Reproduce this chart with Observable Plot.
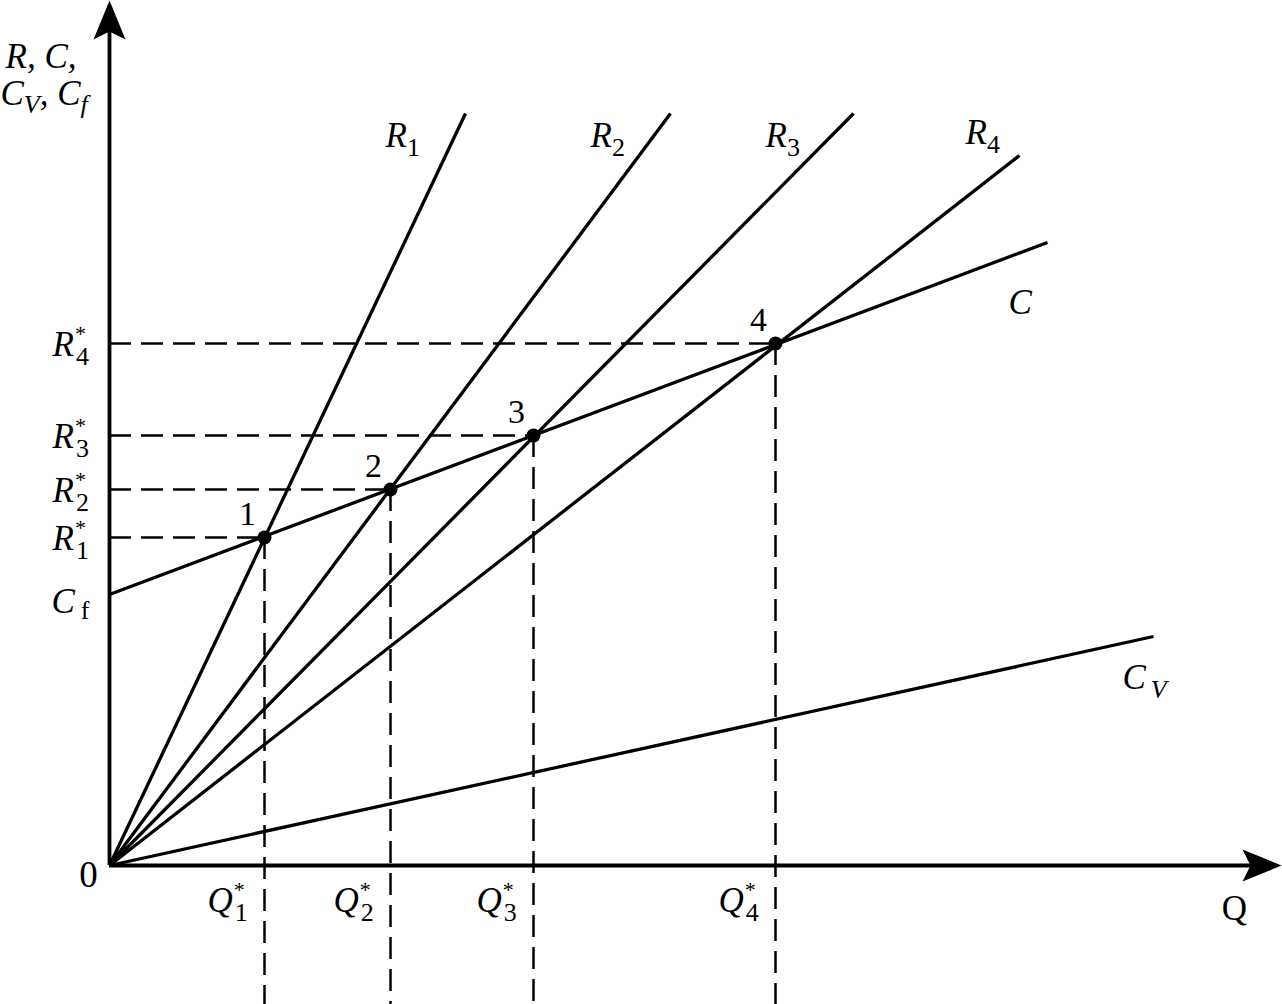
<!DOCTYPE html>
<html><head><meta charset="utf-8">
<script src="https://cdn.jsdelivr.net/npm/d3@7"></script>
<script src="https://cdn.jsdelivr.net/npm/@observablehq/plot@0.6"></script>
<style>body{margin:0;background:#fff}</style>
</head><body><div id="chart"></div>
<script>
// ---- data (units: Q on x, money on y) ----
const breakEven = [
  {id: 1, q: 15.5, v: 32.8},
  {id: 2, q: 28.1, v: 37.6},
  {id: 3, q: 42.4, v: 43.0},
  {id: 4, q: 66.6, v: 52.2}
];
const fixedCost = 27.1;
const costEnd = {q: 93.8, v: 62.3};
const varCostEnd = {q: 104.4, v: 22.9};
const revenueEnds = [
  {id: 1, q: 35.6, v: 75.2},
  {id: 2, q: 56.1, v: 75.2},
  {id: 3, q: 74.4, v: 75.2},
  {id: 4, q: 91.0, v: 71.0}
];
const revenueLabelAt = [
  {id: 1, q: 27.6, v: 71.9},
  {id: 2, q: 48.1, v: 71.9},
  {id: 3, q: 65.6, v: 71.9},
  {id: 4, q: 85.6, v: 72.2}
];
const costLabelAt = {q: 89.9, v: 55.2};
const varCostLabelAt = {q: 101.3, v: 17.7};
const axisEnd = {q: 117.2, v: 86.5};
const guideBottom = -14.5;
const yTitleLines = ["R, C,", "C_V, C_f"];
const xTitle = "Q";

// ---- rich-text specs (keyed by the plain string drawn by Plot) ----
const BASE = 35, SUB = 26, SUP = 22;
const rich = new Map();
for (const d of breakEven) {
  rich.set(`R*_${d.id}`, [
    {t: "R", italic: true},
    {t: "*", size: SUP, shift: -15, dx: 1},
    {t: String(d.id), size: SUB, shift: 9, stack: true, dx: 2}
  ]);
  rich.set(`Q*_${d.id}`, [
    {t: "Q", italic: true},
    {t: "*", size: SUP, shift: -15, dx: 1},
    {t: String(d.id), size: SUB, shift: 9, stack: true, dx: 2}
  ]);
  rich.set(`R_${d.id}`, [
    {t: "R", italic: true},
    {t: String(d.id), size: SUB, shift: 9}
  ]);
}
rich.set("C_f", [{t: "C", italic: true}, {t: "f", size: SUB, shift: 6, dx: 6}]);
rich.set("C_V", [{t: "C", italic: true}, {t: "V", size: SUB, shift: 9, italic: true, dx: 5}]);
rich.set("R, C,", [{t: "R, C,", italic: true}]);
rich.set("C_V, C_f", [
  {t: "C", italic: true},
  {t: "V", size: SUB, shift: 8, italic: true},
  {t: ", C", italic: true, shift: 0},
  {t: "f", size: SUB, shift: 8, italic: true}
]);
rich.set("C", [{t: "C", italic: true}]);

// custom arrowhead symbol (points up; tip at origin)
const arrowHead = {
  draw(ctx) {
    ctx.moveTo(0, 0);
    ctx.lineTo(16, 39);
    ctx.lineTo(0, 31);
    ctx.lineTo(-16, 39);
    ctx.closePath();
  }
};

const dash = {stroke: "#000", strokeWidth: 2.5, strokeDasharray: "22,10"};
const solid = {stroke: "#000", strokeWidth: 3.3};
const font = {fontFamily: "Liberation Serif", fontSize: BASE, fill: "#000", lineAnchor: "bottom"};

const chart = Plot.plot({
  width: 1282,
  height: 1004,
  marginLeft: 109,
  marginRight: 1,
  marginTop: 0,
  marginBottom: 139,
  x: {domain: [0, axisEnd.q], axis: null},
  y: {domain: [0, axisEnd.v], axis: null},
  style: {background: "#fff", color: "#000", overflow: "visible"},
  marks: [
    // dashed guides
    Plot.ruleY(breakEven, {y: "v", x1: 0, x2: "q", ...dash}),
    Plot.ruleX(breakEven, {x: "q", y1: "v", y2: guideBottom, ...dash}),
    // axes
    Plot.ruleX([0], {y1: 0, y2: axisEnd.v - 2, stroke: "#000", strokeWidth: 3.8}),
    Plot.ruleY([0], {x1: 0, x2: axisEnd.q - 2, stroke: "#000", strokeWidth: 3.8}),
    Plot.dot([{q: 0, v: axisEnd.v}], {x: "q", y: "v", symbol: arrowHead, fill: "#000", stroke: "none"}),
    Plot.dot([{q: axisEnd.q, v: 0}], {x: "q", y: "v", symbol: arrowHead, rotate: 90, fill: "#000", stroke: "none"}),
    // revenue lines
    Plot.link(revenueEnds, {x1: 0, y1: 0, x2: "q", y2: "v", ...solid}),
    // total cost, variable cost
    Plot.link([costEnd], {x1: 0, y1: fixedCost, x2: "q", y2: "v", ...solid}),
    Plot.link([varCostEnd], {x1: 0, y1: 0, x2: "q", y2: "v", ...solid}),
    // break-even points
    Plot.dot(breakEven, {x: "q", y: "v", r: 7, fill: "#000", stroke: "none"}),
    Plot.text(breakEven, {x: "q", y: "v", text: d => String(d.id), dx: -17, dy: -13, ...font, fontSize: 34}),
    // y tick labels
    Plot.text(breakEven, {x: 0, y: "v", text: d => `R*_${d.id}`, dx: -57, dy: 12, textAnchor: "start", ...font}),
    Plot.text([fixedCost], {x: 0, y: d => d, text: () => "C_f", dx: -58, dy: 18, textAnchor: "start", ...font}),
    Plot.text(["0"], {x: 0, y: 0, text: d => d, dx: -21, dy: 21, ...font, fontSize: 37}),
    // x tick labels
    Plot.text(breakEven, {x: "q", y: 0, text: d => `Q*_${d.id}`, dx: -57, dy: 46, textAnchor: "start", ...font}),
    Plot.text([xTitle], {x: axisEnd.q, y: 0, text: d => d, dx: -47, dy: 54, ...font}),
    // line labels
    Plot.text(revenueLabelAt, {x: "q", y: "v", text: d => `R_${d.id}`, textAnchor: "start", ...font}),
    Plot.text([costLabelAt], {x: "q", y: "v", text: () => "C", textAnchor: "start", ...font}),
    Plot.text([varCostLabelAt], {x: "q", y: "v", text: () => "C_V", textAnchor: "start", ...font}),
    // y-axis title
    Plot.text([yTitleLines[0]], {x: 0, y: axisEnd.v, text: d => d, dx: -104, dy: 67, textAnchor: "start", ...font}),
    Plot.text([yTitleLines[1]], {x: 0, y: axisEnd.v, text: d => d, dx: -109, dy: 104, textAnchor: "start", ...font})
  ]
});
document.getElementById("chart").appendChild(chart);

// convert keyed strings into sub/superscript tspans
const NS = "http://www.w3.org/2000/svg";
chart.querySelectorAll("text").forEach(el => {
  const segs = rich.get(el.textContent);
  if (!segs) return;
  el.textContent = "";
  let cur = 0, prev = null;
  for (const s of segs) {
    const t = document.createElementNS(NS, "tspan");
    t.textContent = s.t;
    const shift = s.shift || 0;
    t.setAttribute("dy", shift - cur);
    cur = shift;
    if (s.size) t.setAttribute("font-size", s.size);
    t.setAttribute("font-style", s.italic ? "italic" : "normal");
    let dx = s.dx || 0;
    if (s.stack && prev) dx -= prev.getComputedTextLength() + (prev.dxApplied || 0);
    if (dx) t.setAttribute("dx", dx);
    t.dxApplied = s.dx || 0;
    el.appendChild(t);
    prev = t;
  }
});
</script>
</body></html>
